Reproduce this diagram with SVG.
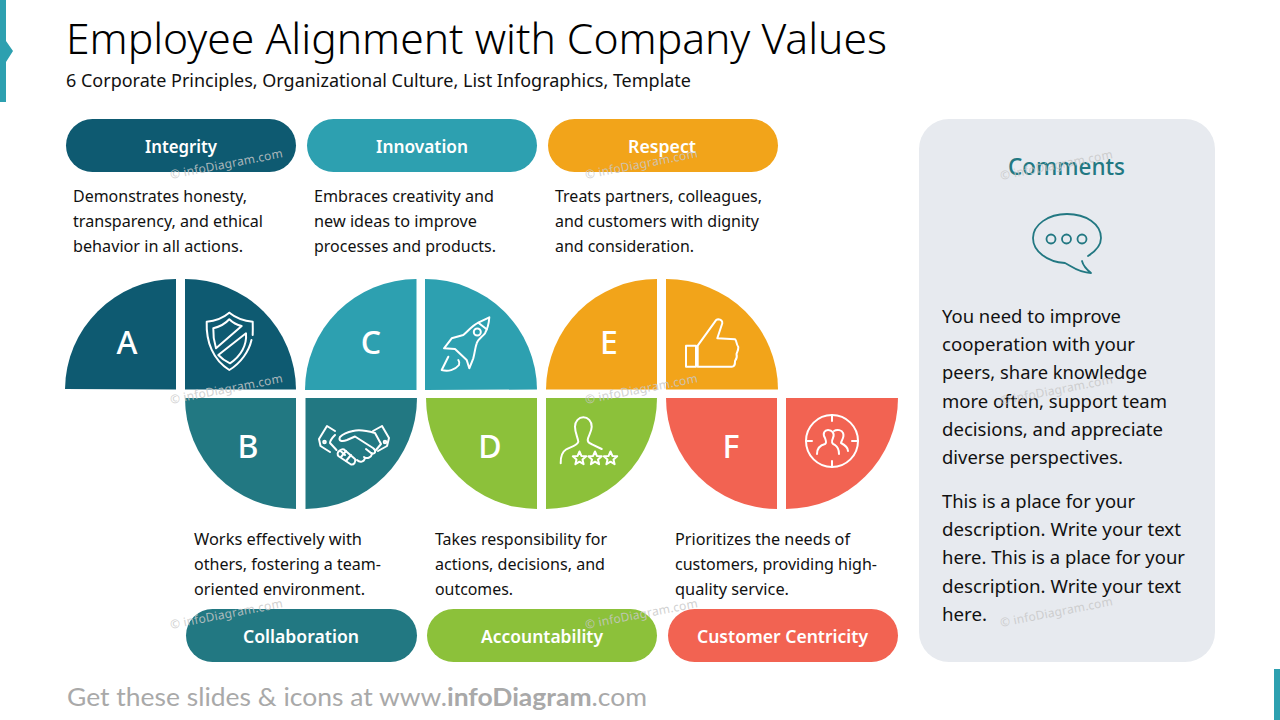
<svg xmlns="http://www.w3.org/2000/svg" width="1280" height="720" viewBox="0 0 1280 720">
<style>
text{font-family:"Noto Sans","Open Sans","Liberation Sans",sans-serif}
.body{font-size:16px;fill:#111}
.cm{font-size:18px;fill:#111}
.pill{font-size:18.500px;font-weight:600;fill:#fff;text-anchor:middle}
.let{font-size:32px;font-weight:500;fill:#fff;text-anchor:middle}
.ic{fill:none;stroke:#fff;stroke-width:2;stroke-linejoin:round;stroke-linecap:round}
.wm{font-size:12px;fill:#c8c8c8;fill-opacity:.85;letter-spacing:.2px}
.c1{fill:#0e5a71}.c2{fill:#2da0b0}.c3{fill:#f2a41a}.c4{fill:#227882}.c5{fill:#8cc13a}.c6{fill:#f26352}
</style>
<defs>
<path id="star" d="M0,-7L1.900,-2.600L6.700,-2.200L3,1L4.100,5.700L0,3.200L-4.100,5.700L-3,1L-6.700,-2.200L-1.900,-2.600Z"/>
</defs>
<rect width="1280" height="720" fill="#fff"/>
<path id="corner-left" class="c2" d="M0,0H6V41L13,51L6,62V102H0Z"/>
<rect id="corner-right" class="c2" x="1274" y="669" width="6" height="51"/>
<g id="heading">
<text x="66" y="54" font-size="42" font-weight="300" textLength="821" lengthAdjust="spacingAndGlyphs" fill="#000">Employee Alignment with Company Values</text>
<text x="66" y="87" font-size="18" textLength="625" lengthAdjust="spacingAndGlyphs" fill="#111">6 Corporate Principles, Organizational Culture, List Infographics, Template</text>
</g>
<g id="node-integrity">
<rect class="c1" x="66" y="119" width="230" height="53" rx="26.500"/>
<text class="pill" x="181" y="153" textLength="72" lengthAdjust="spacingAndGlyphs">Integrity</text>
<text class="body" x="73" y="202" textLength="174" lengthAdjust="spacingAndGlyphs">Demonstrates honesty,</text>
<text class="body" x="73" y="227" textLength="190" lengthAdjust="spacingAndGlyphs">transparency, and ethical</text>
<text class="body" x="73" y="252" textLength="170" lengthAdjust="spacingAndGlyphs">behavior in all actions.</text>
<path class="c1" d="M176,279V389.500L65,389A111,111 0 0 1 176,279Z"/>
<text class="let" x="127" y="354">A</text>
<path class="c1" d="M185,279A111,111 0 0 1 296,389.500H185Z"/>
<g class="ic">
<path d="M229.300,312.700C223,318 215,321 206.700,321.700C206,342 213,360 229.300,370C241,363 249,351 251.500,340"/>
<path d="M252.700,335C252.900,330 252.800,326 252.700,321.700C244,321 236,318 229.300,312.700"/>
<path d="M213.300,328.300C219,327 225,324 229.300,319.300C233,323 237,325 241.700,326L216,348.300C214,342 213,335 213.300,328.300Z"/>
<path d="M246,333.300C247,345 241,356 230,363.300C225,361 221,358 218.300,355Z"/>
</g>
</g>
<g id="node-collaboration">
<rect class="c4" x="186" y="609" width="231" height="53" rx="26.500"/>
<text class="pill" x="301" y="643" textLength="116" lengthAdjust="spacingAndGlyphs">Collaboration</text>
<text class="body" x="194" y="545" textLength="168" lengthAdjust="spacingAndGlyphs">Works effectively with</text>
<text class="body" x="194" y="570" textLength="187" lengthAdjust="spacingAndGlyphs">others, fostering a team-</text>
<text class="body" x="194" y="595" textLength="171" lengthAdjust="spacingAndGlyphs">oriented environment.</text>
<path class="c4" d="M185,398H296V509A111,111 0 0 1 185,398Z"/>
<text class="let" x="248" y="458">B</text>
<path class="c4" d="M305.500,398H417A111.500,111 0 0 1 305.500,509Z"/>
<g class="ic">
<path d="M327,426L319,439L320.500,446L330,452M327,426L335,431"/>
<path d="M382,426L389,438L387,446L378,451M382,426L373,431"/>
<circle cx="324.500" cy="442" r="1.300"/><circle cx="385" cy="442" r="1.300"/>
<path d="M335,435C332,438 330,441 330,443L336.500,450"/>
<path d="M353,431C348,432 343,434 340,437C338,441 342,442 347,440L355,436.500L373,448C377,451 375,455 371,453L366,449"/>
<path d="M353,431C360,429 368,431 375,433L381,444L376,450"/>
<path d="M372,454C371,458 367,459 364,457M365,458C364,462 360,463 357,460"/>
<path d="M340,450.500L345,455M340,450.500C337,452 337,455 339,456.500L351,464.500C354,465 356,462 355,459L344,449.500C343,449 341,449.500 340,450.500Z"/>
<path d="M341,457L346,451M346,461L351,455"/>
</g>
</g>
<g id="node-innovation">
<rect class="c2" x="307" y="119" width="230" height="53" rx="26.500"/>
<text class="pill" x="422" y="153" textLength="92" lengthAdjust="spacingAndGlyphs">Innovation</text>
<text class="body" x="314" y="202" textLength="180" lengthAdjust="spacingAndGlyphs">Embraces creativity and</text>
<text class="body" x="314" y="227" textLength="163" lengthAdjust="spacingAndGlyphs">new ideas to improve</text>
<text class="body" x="314" y="252" textLength="182" lengthAdjust="spacingAndGlyphs">processes and products.</text>
<path class="c2" d="M416.500,279V390H305A111.500,111 0 0 1 416.500,279Z"/>
<text class="let" x="371" y="354">C</text>
<path class="c2" d="M425,279A112,111 0 0 1 537,389.500L425,390Z"/>
<g class="ic">
<path d="M489.300,317.300L478.300,322.700C472,326 468,331 463.300,335L451.700,338.300L444,348.300L455,349L466.700,360L469.300,368.300L473.300,358.300C475,352 475,348 476.700,343.300C478,339 482,337 485,333.300C488,328 489,322 489.300,317.300Z"/>
<path d="M478.300,322.700L486.700,329.300"/>
<circle cx="477.300" cy="332" r="3.500"/>
<path d="M448.300,356.700L441.700,370C448,372 455,370 459,365C460,362 459,361 458.300,360"/>
</g>
</g>
<g id="node-accountability">
<rect class="c5" x="427" y="609" width="230" height="53" rx="26.500"/>
<text class="pill" x="542" y="643" textLength="122" lengthAdjust="spacingAndGlyphs">Accountability</text>
<text class="body" x="435" y="545" textLength="172" lengthAdjust="spacingAndGlyphs">Takes responsibility for</text>
<text class="body" x="435" y="570" textLength="170" lengthAdjust="spacingAndGlyphs">actions, decisions, and</text>
<text class="body" x="435" y="595" textLength="78" lengthAdjust="spacingAndGlyphs">outcomes.</text>
<path class="c5" d="M426,398H537V509A111,111 0 0 1 426,398Z"/>
<text class="let" x="490" y="458">D</text>
<path class="c5" d="M546,398H657A111,111 0 0 1 546,509Z"/>
<g class="ic">
<path d="M560.700,463.300C560.500,456 562,452 566,449.500C570,447 577,446 578.300,441.700C578,438 575,433 575,426.700C575,421 579,417.300 583.300,417.300C588,417.300 591.700,421 591.700,426.700C591.700,432 588,436 587.700,440C587.700,443 590,443.500 592,444.300L601.700,449"/>
<use href="#star" x="579.500" y="458.500"/>
<use href="#star" x="595" y="458.500"/>
<use href="#star" x="610.500" y="458.500"/>
</g>
</g>
<g id="node-respect">
<rect class="c3" x="548" y="119" width="230" height="53" rx="26.500"/>
<text class="pill" x="662" y="153" textLength="68" lengthAdjust="spacingAndGlyphs">Respect</text>
<text class="body" x="555" y="202" textLength="207" lengthAdjust="spacingAndGlyphs">Treats partners, colleagues,</text>
<text class="body" x="555" y="227" textLength="204" lengthAdjust="spacingAndGlyphs">and customers with dignity</text>
<text class="body" x="555" y="252" textLength="139" lengthAdjust="spacingAndGlyphs">and consideration.</text>
<path class="c3" d="M657,279V389.500H546A111,111 0 0 1 657,279Z"/>
<text class="let" x="609" y="354">E</text>
<path class="c3" d="M666,279A112,110.500 0 0 1 778,389.500H666Z"/>
<g class="ic">
<path d="M696,345.700H686V366.700H696Z"/>
<path d="M697.700,345.700L715,321.700C716,319.500 717,319.300 718.300,319.300C721,319.500 722.500,321 722.300,323.300L717.300,338.300L735,339.300C737,341 736,344 738.300,347C738.500,350 737,352 736.500,354C737.500,357 736.500,359 735,361C735,364 735,366.700 732,366.700H697.700Z"/>
</g>
</g>
<g id="node-customer-centricity">
<rect class="c6" x="668" y="609" width="230" height="53" rx="26.500"/>
<text class="pill" x="782.500" y="643" textLength="171" lengthAdjust="spacingAndGlyphs">Customer Centricity</text>
<text class="body" x="675" y="545" textLength="175" lengthAdjust="spacingAndGlyphs">Prioritizes the needs of</text>
<text class="body" x="675" y="570" textLength="202" lengthAdjust="spacingAndGlyphs">customers, providing high-</text>
<text class="body" x="675" y="595" textLength="114" lengthAdjust="spacingAndGlyphs">quality service.</text>
<path class="c6" d="M666,398H777V509A111,111 0 0 1 666,398Z"/>
<text class="let" x="731" y="458">F</text>
<path class="c6" d="M786,398H898A112,111 0 0 1 786,509Z"/>
<g class="ic">
<circle cx="832" cy="441" r="26"/>
<path d="M832,415V421M832,461V467M806,441H812M852,441H858"/>
<path d="M817,454C817,447 821,445 825,444C827,443 826,441 825,438C822,433 825,430 828,430C832,430 835,433 833,438C831,442 832,444 835,445C838,447 839,450 839,454"/>
<path d="M834,431C837,429 842,430 843,433C845,437 841,441 841,443C845,445 848,447 848,451"/>
</g>
</g>
<g id="node-comments">
<rect x="919" y="119" width="296" height="543" rx="30" fill="#e7eaef"/>
<text x="1066.500" y="175" font-size="23" font-weight="500" text-anchor="middle" textLength="117" lengthAdjust="spacingAndGlyphs" fill="#227882">Comments</text>
<g fill="none" stroke="#227882" stroke-width="1.800" stroke-linecap="round" stroke-linejoin="round">
<path d="M1088,256C1096,251 1101,245 1101,238C1101,224 1086,214 1067,214C1048,214 1033,225 1033,238C1033,251 1047,262 1065,263C1071,266 1079,273 1091,273C1086,269 1083,265 1082,261"/>
<circle cx="1051" cy="239" r="4.500"/><circle cx="1066.500" cy="239" r="4.500"/><circle cx="1082" cy="239" r="4.500"/>
</g>
<text class="cm" x="942" y="323" textLength="179" lengthAdjust="spacingAndGlyphs">You need to improve</text>
<text class="cm" x="942" y="351" textLength="193" lengthAdjust="spacingAndGlyphs">cooperation with your</text>
<text class="cm" x="942" y="379" textLength="205" lengthAdjust="spacingAndGlyphs">peers, share knowledge</text>
<text class="cm" x="942" y="408" textLength="225" lengthAdjust="spacingAndGlyphs">more often, support team</text>
<text class="cm" x="942" y="436" textLength="221" lengthAdjust="spacingAndGlyphs">decisions, and appreciate</text>
<text class="cm" x="942" y="464" textLength="181" lengthAdjust="spacingAndGlyphs">diverse perspectives.</text>
<text class="cm" x="942" y="508" textLength="193" lengthAdjust="spacingAndGlyphs">This is a place for your</text>
<text class="cm" x="942" y="536" textLength="239" lengthAdjust="spacingAndGlyphs">description. Write your text</text>
<text class="cm" x="942" y="564" textLength="243" lengthAdjust="spacingAndGlyphs">here. This is a place for your</text>
<text class="cm" x="942" y="593" textLength="239" lengthAdjust="spacingAndGlyphs">description. Write your text</text>
<text class="cm" x="942" y="621" textLength="45" lengthAdjust="spacingAndGlyphs">here.</text>
</g>
<g id="connectors"></g>
<g id="watermarks">
<text class="wm" transform="translate(171,179) rotate(-11)">© infoDiagram.com</text>
<text class="wm" transform="translate(586,179) rotate(-11)">© infoDiagram.com</text>
<text class="wm" transform="translate(1001,180) rotate(-11)">© infoDiagram.com</text>
<text class="wm" transform="translate(171,404) rotate(-11)">© infoDiagram.com</text>
<text class="wm" transform="translate(586,404) rotate(-11)">© infoDiagram.com</text>
<text class="wm" transform="translate(1001,405) rotate(-11)">© infoDiagram.com</text>
<text class="wm" transform="translate(171,629) rotate(-11)">© infoDiagram.com</text>
<text class="wm" transform="translate(586,629) rotate(-11)">© infoDiagram.com</text>
<text class="wm" transform="translate(1001,627) rotate(-11)">© infoDiagram.com</text>
</g>
<text id="footer" x="67" y="706" font-size="25" textLength="580" lengthAdjust="spacingAndGlyphs" fill="#a9a9a9" style="font-family:Lato,'Noto Sans',sans-serif">Get these slides &amp; icons at www.<tspan font-weight="700">infoDiagram</tspan>.com</text>
</svg>
